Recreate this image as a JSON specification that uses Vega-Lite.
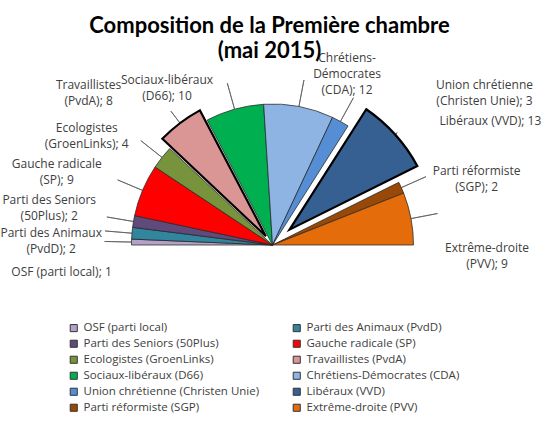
{
  "$schema": "https://vega.github.io/schema/vega-lite/v6.json",
  "autosize": "none",
  "padding": {"top": 67, "left": 0, "right": 0, "bottom": 0},
  "width": 545,
  "height": 356,
  "background": "white",
  "view": {"stroke": null},
  "title": {
    "text": ["Composition de la Première chambre", "(mai 2015)"],
    "font": "Lato",
    "fontSize": 22,
    "fontWeight": "bold",
    "color": "#000000",
    "anchor": "middle",
    "lineHeight": 25,
    "offset": -11,
    "dx": -3
  },
  "data": {
    "values": [
      {"idx": 1, "party": "OSF (parti local)", "seats": 1, "label": "OSF (parti local); 1"},
      {"idx": 2, "party": "Parti des Animaux (PvdD)", "seats": 2, "label": "Parti des Animaux\n(PvdD); 2"},
      {"idx": 3, "party": "Parti des Seniors (50Plus)", "seats": 2, "label": "Parti des Seniors\n(50Plus); 2"},
      {"idx": 4, "party": "Gauche radicale (SP)", "seats": 9, "label": "Gauche radicale\n(SP); 9"},
      {"idx": 5, "party": "Ecologistes (GroenLinks)", "seats": 4, "label": "Ecologistes\n(GroenLinks); 4"},
      {"idx": 6, "party": "Travaillistes (PvdA)", "seats": 8, "label": "Travaillistes\n(PvdA); 8"},
      {"idx": 7, "party": "Sociaux-libéraux (D66)", "seats": 10, "label": "Sociaux-libéraux\n(D66); 10"},
      {"idx": 8, "party": "Chrétiens-Démocrates (CDA)", "seats": 12, "label": "Chrétiens-\nDémocrates\n(CDA); 12"},
      {"idx": 9, "party": "Union chrétienne (Christen Unie)", "seats": 3, "label": "Union chrétienne\n(Christen Unie); 3"},
      {"idx": 10, "party": "Libéraux (VVD)", "seats": 13, "label": "Libéraux (VVD); 13"},
      {"idx": 11, "party": "Parti réformiste (SGP)", "seats": 2, "label": "Parti réformiste\n(SGP); 2"},
      {"idx": 12, "party": "Extrême-droite (PVV)", "seats": 9, "label": "Extrême-droite\n(PVV); 9"}
    ]
  },
  "encoding": {
    "theta": {
      "field": "seats",
      "type": "quantitative",
      "stack": true,
      "scale": {"domain": [0, 150], "range": [-1.5707963, 4.712389]}
    },
    "order": {"field": "idx", "type": "quantitative"},
    "detail": {"field": "party"}
  },
  "layer": [
    {
      "mark": {
        "type": "arc",
        "innerRadius": 141,
        "outerRadius": 168,
        "padAngle": 3.1,
        "filled": false,
        "stroke": "#595959",
        "strokeWidth": 0.75
      }
    },
    {
      "mark": {"type": "arc", "outerRadius": 141, "stroke": "#262626", "strokeWidth": 0.75},
      "encoding": {
        "color": {
          "field": "party",
          "type": "nominal",
          "sort": null,
          "scale": {
            "domain": ["OSF (parti local)", "Parti des Animaux (PvdD)", "Parti des Seniors (50Plus)", "Gauche radicale (SP)", "Ecologistes (GroenLinks)", "Travaillistes (PvdA)", "Sociaux-libéraux (D66)", "Chrétiens-Démocrates (CDA)", "Union chrétienne (Christen Unie)", "Libéraux (VVD)", "Parti réformiste (SGP)", "Extrême-droite (PVV)"],
            "range": ["#B3A2C7", "#31859C", "#604A7B", "#FF0000", "#77933C", "#D99694", "#00B050", "#8EB4E3", "#558ED5", "#376092", "#984807", "#E46C0A"]
          },
          "legend": {
            "orient": "none",
            "legendX": 68,
            "legendY": 255,
            "columns": 2,
            "columnPadding": 31,
            "rowPadding": 3,
            "title": null,
            "values": ["OSF (parti local)", "Parti des Seniors (50Plus)", "Ecologistes (GroenLinks)", "Sociaux-libéraux (D66)", "Union chrétienne (Christen Unie)", "Parti réformiste (SGP)", "Parti des Animaux (PvdD)", "Gauche radicale (SP)", "Travaillistes (PvdA)", "Chrétiens-Démocrates (CDA)", "Libéraux (VVD)", "Extrême-droite (PVV)"],
            "symbolType": "square",
            "symbolSize": 50,
            "symbolStrokeColor": "#333333",
            "symbolStrokeWidth": 1,
            "labelFont": "Open Sans",
            "labelFontSize": 11.5,
            "labelColor": "#404040",
            "labelLimit": 300,
            "encode": {
              "symbols": {
                "update": {
                  "strokeWidth": [
                    {"test": "datum.label === 'Travaillistes (PvdA)' || datum.label === 'Libéraux (VVD)'", "value": 2},
                    {"value": 1}
                  ],
                  "stroke": [
                    {"test": "datum.label === 'Travaillistes (PvdA)' || datum.label === 'Libéraux (VVD)'", "value": "#000000"},
                    {"value": "#333333"}
                  ]
                }
              }
            }
          }
        },
        "opacity": {
          "condition": {"test": "datum.party === 'Travaillistes (PvdA)' || datum.party === 'Libéraux (VVD)'", "value": 0},
          "value": 1
        }
      }
    },
    {
      "mark": {"type": "arc", "innerRadius": 11, "outerRadius": 153, "padAngle": 0.0261, "stroke": "#000000", "strokeWidth": 2.2},
      "encoding": {
        "color": {"field": "party", "type": "nominal", "sort": null},
        "opacity": {
          "condition": {"test": "datum.party === 'Travaillistes (PvdA)'", "value": 1},
          "value": 0
        }
      }
    },
    {
      "mark": {"type": "arc", "innerRadius": 23, "outerRadius": 165, "padAngle": 0.0774, "stroke": "#000000", "strokeWidth": 2.2},
      "encoding": {
        "color": {"field": "party", "type": "nominal", "sort": null},
        "opacity": {
          "condition": {"test": "datum.party === 'Libéraux (VVD)'", "value": 1},
          "value": 0
        }
      }
    },
    {
      "mark": {
        "type": "text",
        "radius": 195,
        "align": "center",
        "baseline": "middle",
        "lineBreak": "\n",
        "lineHeight": 16,
        "font": "Open Sans",
        "fontSize": 12,
        "fill": "#404040",
        "dx": {"expr": "[-16,-27,-31,-36,-33,-66,-53,38,118,73,26,23][datum.idx-1]"},
        "dy": {"expr": "[31,4,-12.5,-5,4,-5,23,5,11,6,5,40][datum.idx-1]"}
      },
      "encoding": {
        "text": {"field": "label", "type": "nominal"}
      }
    }
  ]
}
